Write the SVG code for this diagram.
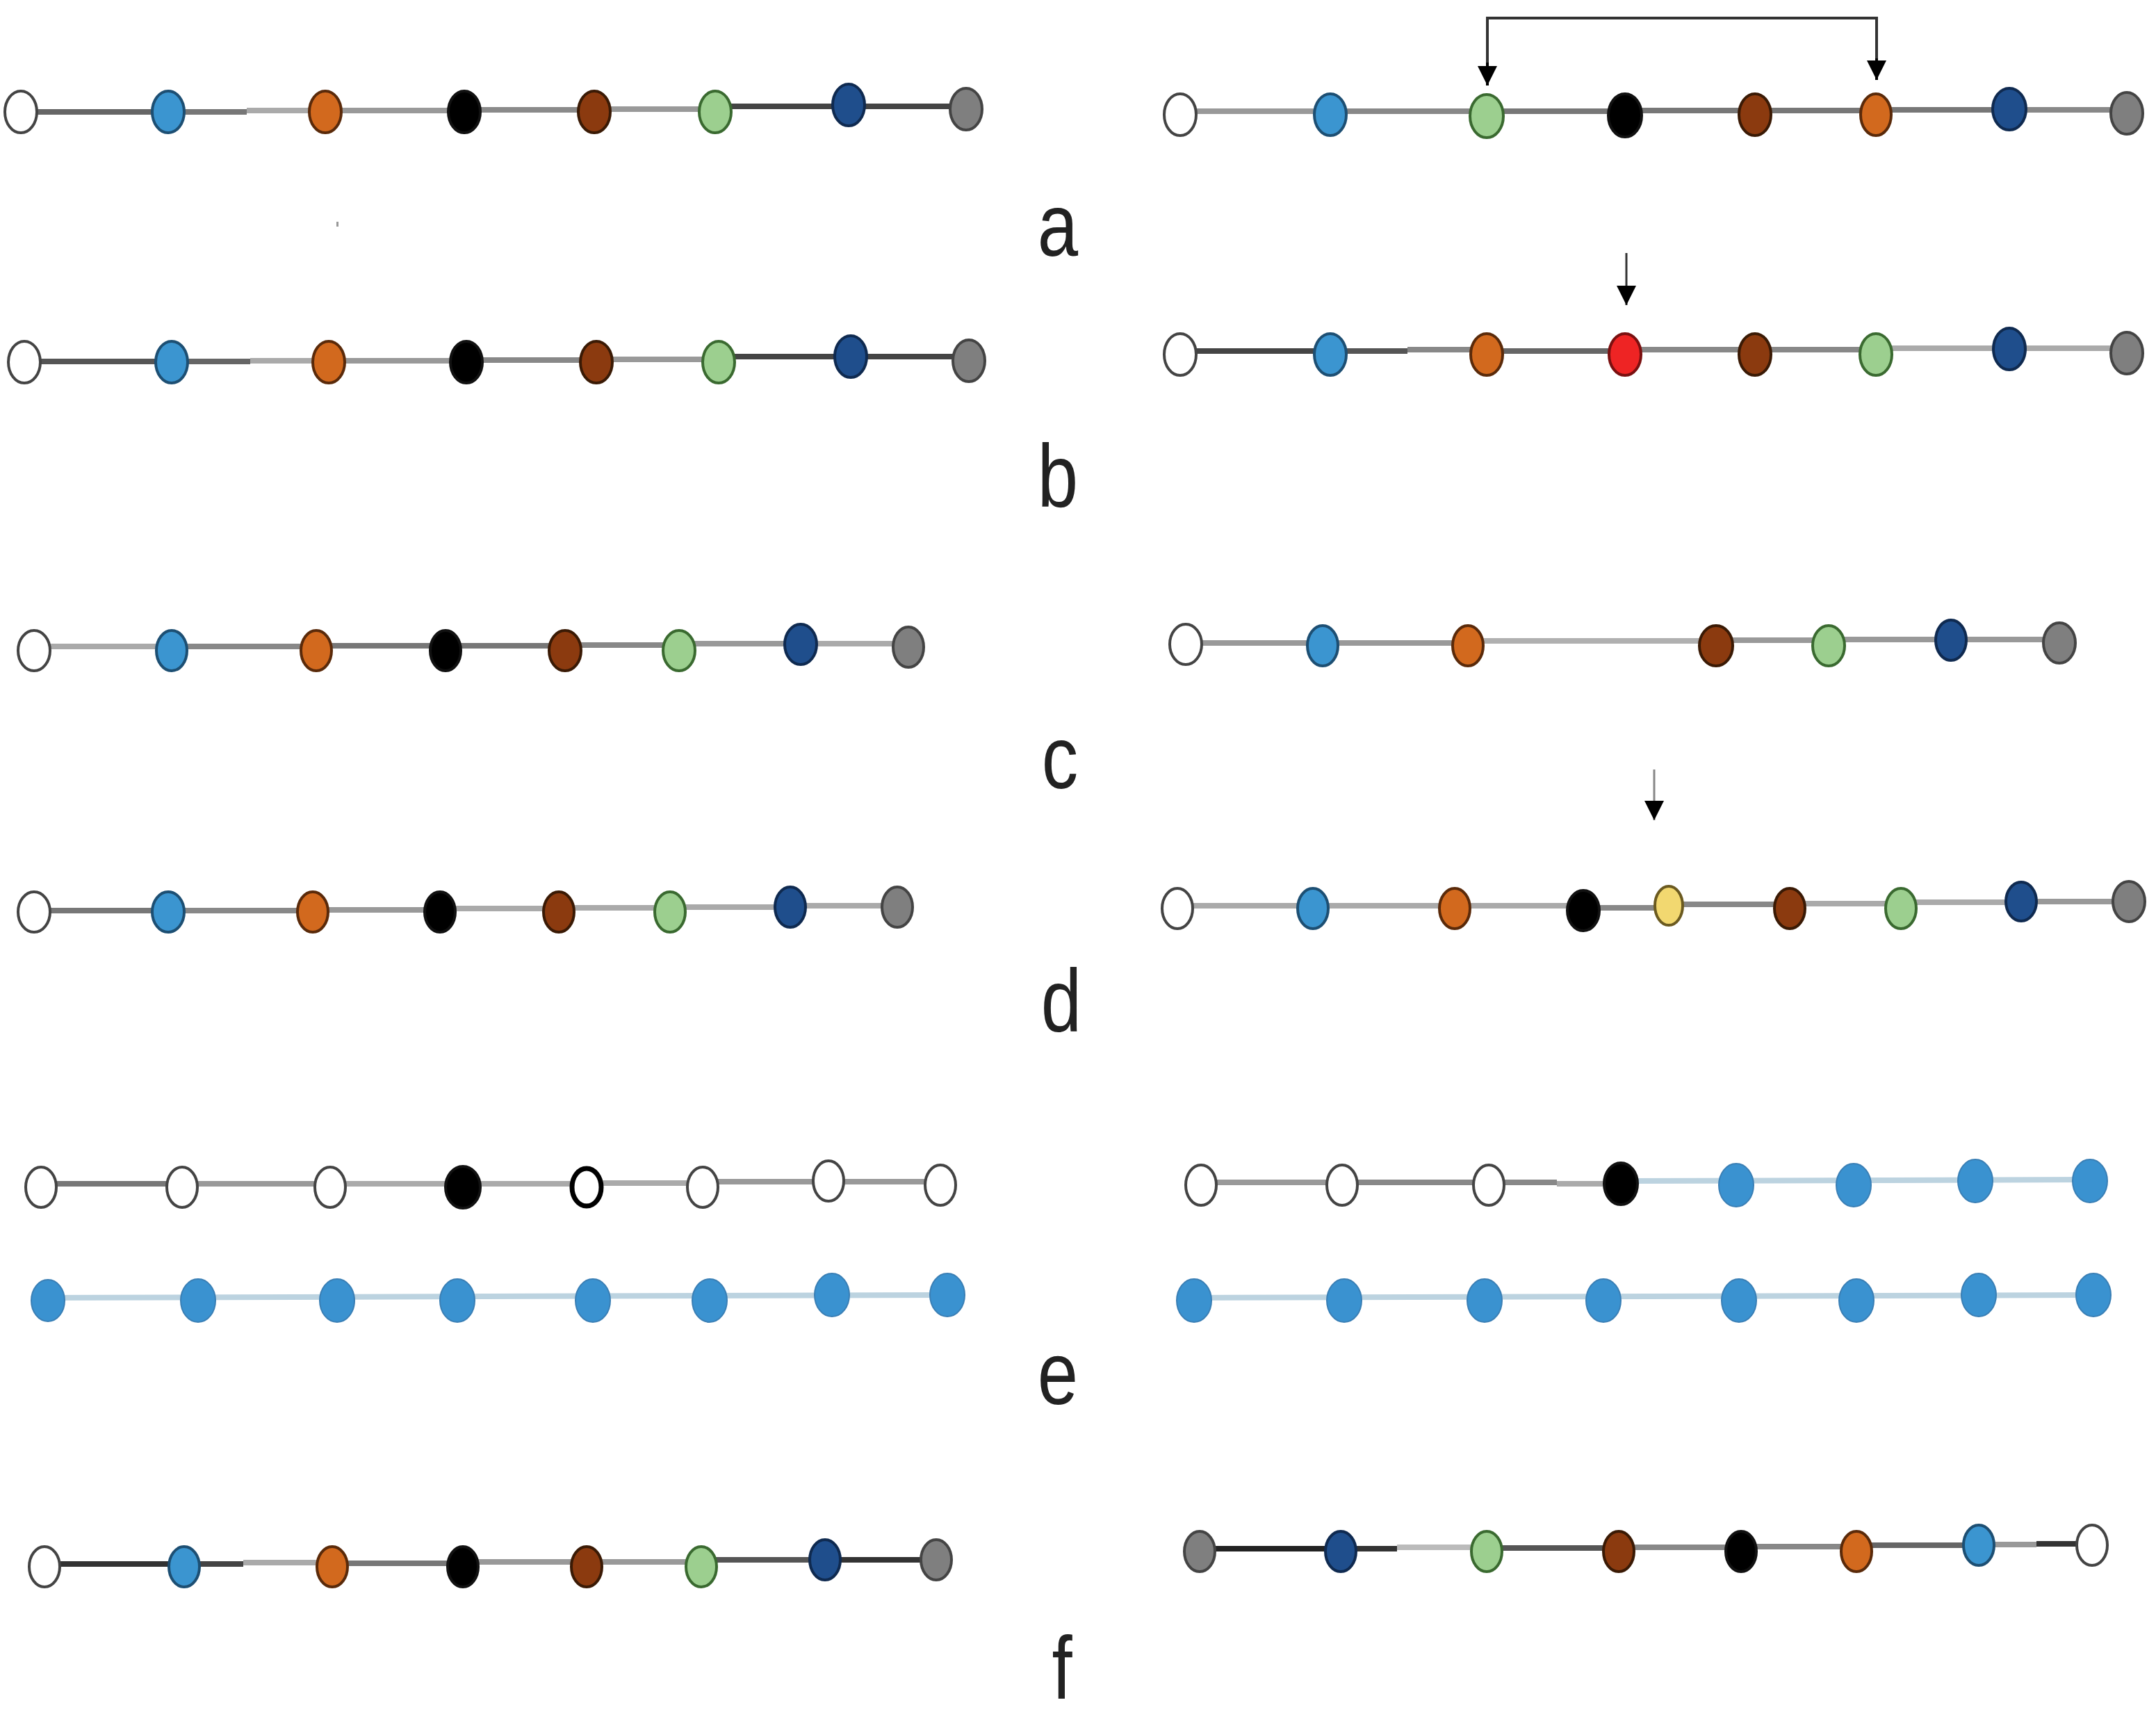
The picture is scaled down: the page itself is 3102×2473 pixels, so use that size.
<svg xmlns="http://www.w3.org/2000/svg" width="3102" height="2473" viewBox="0 0 3102 2473">
<defs>
<style>
.n{stroke-width:4}
.W{fill:#ffffff;stroke:#444}
.Bl{fill:#3b95d0;stroke:#1d4f73}
.Or{fill:#d2691e;stroke:#5a2a0a}
.K{fill:#000;stroke:#111}
.Br{fill:#8b3a0f;stroke:#3a1a05}
.G{fill:#9ccf8f;stroke:#3a6a30}
.DB{fill:#1f4e8c;stroke:#0f2a50}
.Gy{fill:#7f7f7f;stroke:#444}
.R{fill:#ee2424;stroke:#7a1010}
.Y{fill:#f2d870;stroke:#6b5a20}
.E{fill:#3a92d0;stroke:#3a7fb5;stroke-width:2}
.WT{fill:#ffffff;stroke:#000;stroke-width:7}
.ln{stroke-width:8;fill:none;stroke-linecap:butt}
.lb{stroke:#bcd3e0}
.arr{stroke:#333;stroke-width:4;fill:none}
.lbl{font-family:"Liberation Sans",Arial,sans-serif;font-size:128px;fill:#222;text-anchor:middle}
</style>
<marker id="ah" viewBox="0 0 10 10" refX="10" refY="5" markerWidth="28" markerHeight="28" markerUnits="userSpaceOnUse" orient="auto">
<path d="M0,0 L10,5 L0,10 z" fill="#000"/>
</marker>
</defs>
<rect width="3102" height="2473" fill="#ffffff"/>

<g id="connectors">
<!-- row a left -->
<line class="ln" x1="30" y1="161" x2="242" y2="161" stroke="#666"/>
<line class="ln" x1="242" y1="161" x2="355" y2="161" stroke="#777"/>
<line class="ln" x1="355" y1="159" x2="468" y2="159" stroke="#aaa"/>
<line class="ln" x1="468" y1="159" x2="668" y2="159" stroke="#999"/>
<line class="ln" x1="668" y1="158" x2="855" y2="158" stroke="#8a8a8a"/>
<line class="ln" x1="855" y1="157" x2="1029" y2="157" stroke="#999"/>
<line class="ln" x1="1029" y1="153" x2="1221" y2="153" stroke="#444"/>
<line class="ln" x1="1221" y1="153" x2="1390" y2="153" stroke="#444"/>
<!-- row a right -->
<line class="ln" x1="1698" y1="160" x2="1914" y2="160" stroke="#999"/>
<line class="ln" x1="1914" y1="160" x2="2139" y2="160" stroke="#888"/>
<line class="ln" x1="2139" y1="160" x2="2337" y2="160" stroke="#777"/>
<line class="ln" x1="2337" y1="159" x2="2525" y2="159" stroke="#777"/>
<line class="ln" x1="2525" y1="159" x2="2699" y2="159" stroke="#777"/>
<line class="ln" x1="2699" y1="158" x2="2891" y2="158" stroke="#777"/>
<line class="ln" x1="2891" y1="158" x2="3060" y2="158" stroke="#888"/>
<!-- bracket arrows a -->
<path class="arr" d="M2140,95 V26 H2700 V88" stroke-width="5"/>
<line x1="2140" y1="90" x2="2140" y2="123" stroke="#000" stroke-width="4" marker-end="url(#ah)"/>
<line x1="2700" y1="84" x2="2700" y2="115" stroke="#000" stroke-width="4" marker-end="url(#ah)"/>
<!-- row b left -->
<line class="ln" x1="35" y1="520" x2="247" y2="520" stroke="#555"/>
<line class="ln" x1="247" y1="520" x2="360" y2="520" stroke="#666"/>
<line class="ln" x1="360" y1="519" x2="473" y2="519" stroke="#aaa"/>
<line class="ln" x1="473" y1="519" x2="671" y2="519" stroke="#999"/>
<line class="ln" x1="671" y1="518" x2="858" y2="518" stroke="#888"/>
<line class="ln" x1="858" y1="517" x2="1034" y2="517" stroke="#999"/>
<line class="ln" x1="1034" y1="513" x2="1224" y2="513" stroke="#444"/>
<line class="ln" x1="1224" y1="513" x2="1394" y2="513" stroke="#444"/>
<!-- row b right -->
<line class="ln" x1="1698" y1="505" x2="1914" y2="505" stroke="#444"/>
<line class="ln" x1="1914" y1="505" x2="2025" y2="505" stroke="#555"/>
<line class="ln" x1="2025" y1="503" x2="2139" y2="503" stroke="#888"/>
<line class="ln" x1="2139" y1="505" x2="2337" y2="505" stroke="#666"/>
<line class="ln" x1="2337" y1="503" x2="2525" y2="503" stroke="#888"/>
<line class="ln" x1="2525" y1="503" x2="2699" y2="503" stroke="#888"/>
<line class="ln" x1="2699" y1="501" x2="2891" y2="501" stroke="#aaa"/>
<line class="ln" x1="2891" y1="501" x2="3060" y2="501" stroke="#aaa"/>
<line x1="2340" y1="364" x2="2340" y2="439" stroke="#333" stroke-width="3" marker-end="url(#ah)"/>
<!-- row c left -->
<line class="ln" x1="49" y1="930" x2="247" y2="930" stroke="#aaa"/>
<line class="ln" x1="247" y1="930" x2="455" y2="930" stroke="#888"/>
<line class="ln" x1="455" y1="929" x2="641" y2="929" stroke="#777"/>
<line class="ln" x1="641" y1="929" x2="813" y2="929" stroke="#777"/>
<line class="ln" x1="813" y1="928" x2="977" y2="928" stroke="#888"/>
<line class="ln" x1="977" y1="926" x2="1152" y2="926" stroke="#999"/>
<line class="ln" x1="1152" y1="926" x2="1307" y2="926" stroke="#aaa"/>
<!-- row c right -->
<line class="ln" x1="1706" y1="925" x2="1903" y2="925" stroke="#999"/>
<line class="ln" x1="1903" y1="925" x2="2112" y2="925" stroke="#999"/>
<line class="ln" x1="2112" y1="922" x2="2469" y2="922" stroke="#b0b0b0"/>
<line class="ln" x1="2469" y1="921" x2="2631" y2="921" stroke="#999"/>
<line class="ln" x1="2631" y1="920" x2="2807" y2="920" stroke="#999"/>
<line class="ln" x1="2807" y1="920" x2="2963" y2="920" stroke="#999"/>
<!-- row d left -->
<line class="ln" x1="49" y1="1310" x2="242" y2="1310" stroke="#777"/>
<line class="ln" x1="242" y1="1310" x2="450" y2="1310" stroke="#888"/>
<line class="ln" x1="450" y1="1309" x2="633" y2="1309" stroke="#999"/>
<line class="ln" x1="633" y1="1307" x2="804" y2="1307" stroke="#aaa"/>
<line class="ln" x1="804" y1="1306" x2="964" y2="1306" stroke="#aaa"/>
<line class="ln" x1="964" y1="1305" x2="1137" y2="1305" stroke="#aaa"/>
<line class="ln" x1="1137" y1="1303" x2="1291" y2="1303" stroke="#aaa"/>
<!-- row d right -->
<line class="ln" x1="1694" y1="1303" x2="1889" y2="1303" stroke="#aaa"/>
<line class="ln" x1="1889" y1="1303" x2="2093" y2="1303" stroke="#aaa"/>
<line class="ln" x1="2093" y1="1303" x2="2278" y2="1303" stroke="#aaa"/>
<line class="ln" x1="2278" y1="1306" x2="2401" y2="1306" stroke="#888"/>
<line class="ln" x1="2401" y1="1301" x2="2575" y2="1301" stroke="#888"/>
<line class="ln" x1="2575" y1="1300" x2="2735" y2="1300" stroke="#aaa"/>
<line class="ln" x1="2735" y1="1298" x2="2908" y2="1298" stroke="#aaa"/>
<line class="ln" x1="2908" y1="1297" x2="3063" y2="1297" stroke="#999"/>
<line x1="2380" y1="1107" x2="2380" y2="1180" stroke="#888" stroke-width="3" marker-end="url(#ah)"/>
<!-- row e1 left -->
<line class="ln" x1="59" y1="1703" x2="262" y2="1703" stroke="#777"/>
<line class="ln" x1="262" y1="1703" x2="475" y2="1703" stroke="#999"/>
<line class="ln" x1="475" y1="1703" x2="666" y2="1703" stroke="#aaa"/>
<line class="ln" x1="666" y1="1703" x2="846" y2="1703" stroke="#aaa"/>
<line class="ln" x1="846" y1="1702" x2="1011" y2="1702" stroke="#aaa"/>
<line class="ln" x1="1011" y1="1700" x2="1192" y2="1700" stroke="#999"/>
<line class="ln" x1="1192" y1="1700" x2="1353" y2="1700" stroke="#999"/>
<!-- row e2 left -->
<line class="ln lb" x1="69" y1="1867" x2="1363" y2="1863"/>
<!-- row e1 right -->
<line class="ln" x1="1728" y1="1701" x2="1931" y2="1701" stroke="#999"/>
<line class="ln" x1="1931" y1="1701" x2="2142" y2="1701" stroke="#888"/>
<line class="ln" x1="2142" y1="1701" x2="2240" y2="1701" stroke="#888"/>
<line class="ln" x1="2240" y1="1703" x2="2332" y2="1703" stroke="#aaa"/>
<line class="ln lb" x1="2332" y1="1699" x2="3007" y2="1697"/>
<!-- row e2 right -->
<line class="ln lb" x1="1718" y1="1867" x2="3012" y2="1863"/>
<!-- row f left -->
<line class="ln" x1="64" y1="2250" x2="265" y2="2250" stroke="#333"/>
<line class="ln" x1="265" y1="2250" x2="350" y2="2250" stroke="#444"/>
<line class="ln" x1="350" y1="2248" x2="478" y2="2248" stroke="#aaa"/>
<line class="ln" x1="478" y1="2249" x2="666" y2="2249" stroke="#777"/>
<line class="ln" x1="666" y1="2247" x2="844" y2="2247" stroke="#999"/>
<line class="ln" x1="844" y1="2247" x2="1009" y2="2247" stroke="#999"/>
<line class="ln" x1="1009" y1="2244" x2="1187" y2="2244" stroke="#555"/>
<line class="ln" x1="1187" y1="2244" x2="1347" y2="2244" stroke="#333"/>
<!-- row f right -->
<line class="ln" x1="1726" y1="2228" x2="1929" y2="2228" stroke="#222"/>
<line class="ln" x1="1929" y1="2228" x2="2010" y2="2228" stroke="#333"/>
<line class="ln" x1="2010" y1="2226" x2="2139" y2="2226" stroke="#bbb"/>
<line class="ln" x1="2139" y1="2227" x2="2329" y2="2227" stroke="#555"/>
<line class="ln" x1="2329" y1="2226" x2="2505" y2="2226" stroke="#888"/>
<line class="ln" x1="2505" y1="2225" x2="2671" y2="2225" stroke="#888"/>
<line class="ln" x1="2671" y1="2223" x2="2847" y2="2223" stroke="#666"/>
<line class="ln" x1="2847" y1="2222" x2="2930" y2="2222" stroke="#999"/>
<line class="ln" x1="2930" y1="2221" x2="3010" y2="2221" stroke="#333"/>
</g>

<g id="row-a-left">
<ellipse class="n W" cx="30" cy="161" rx="23" ry="30"/>
<ellipse class="n Bl" cx="242" cy="161" rx="23" ry="30"/>
<ellipse class="n Or" cx="468" cy="161" rx="23" ry="30"/>
<ellipse class="n K" cx="668" cy="161" rx="23" ry="30"/>
<ellipse class="n Br" cx="855" cy="161" rx="23" ry="30"/>
<ellipse class="n G" cx="1029" cy="161" rx="23" ry="30"/>
<ellipse class="n DB" cx="1221" cy="151" rx="23" ry="30"/>
<ellipse class="n Gy" cx="1390" cy="157" rx="23" ry="30"/>
</g>
<g id="row-a-right">
<ellipse class="n W" cx="1698" cy="165" rx="23" ry="30"/>
<ellipse class="n Bl" cx="1914" cy="165" rx="23" ry="30"/>
<ellipse class="n G" cx="2139" cy="167" rx="24" ry="31"/>
<ellipse class="n K" cx="2338" cy="166" rx="24" ry="31"/>
<ellipse class="n Br" cx="2525" cy="165" rx="23" ry="30"/>
<ellipse class="n Or" cx="2699" cy="165" rx="22" ry="30"/>
<ellipse class="n DB" cx="2891" cy="157" rx="24" ry="30"/>
<ellipse class="n Gy" cx="3060" cy="163" rx="23" ry="30"/>
</g>
<g id="row-b-left">
<ellipse class="n W" cx="35" cy="521" rx="23" ry="30"/>
<ellipse class="n Bl" cx="247" cy="521" rx="23" ry="30"/>
<ellipse class="n Or" cx="473" cy="521" rx="23" ry="30"/>
<ellipse class="n K" cx="671" cy="521" rx="23" ry="30"/>
<ellipse class="n Br" cx="858" cy="521" rx="23" ry="30"/>
<ellipse class="n G" cx="1034" cy="521" rx="23" ry="30"/>
<ellipse class="n DB" cx="1224" cy="513" rx="23" ry="30"/>
<ellipse class="n Gy" cx="1394" cy="519" rx="23" ry="30"/>
</g>
<g id="row-b-right">
<ellipse class="n W" cx="1698" cy="510" rx="23" ry="30"/>
<ellipse class="n Bl" cx="1914" cy="510" rx="23" ry="30"/>
<ellipse class="n Or" cx="2139" cy="510" rx="23" ry="30"/>
<ellipse class="n R" cx="2338" cy="510" rx="23" ry="30"/>
<ellipse class="n Br" cx="2525" cy="510" rx="23" ry="30"/>
<ellipse class="n G" cx="2699" cy="510" rx="23" ry="30"/>
<ellipse class="n DB" cx="2891" cy="502" rx="23" ry="30"/>
<ellipse class="n Gy" cx="3060" cy="508" rx="23" ry="30"/>
</g>
<g id="row-c-left">
<ellipse class="n W" cx="49" cy="936" rx="23" ry="29"/>
<ellipse class="n Bl" cx="247" cy="936" rx="22" ry="29"/>
<ellipse class="n Or" cx="455" cy="936" rx="22" ry="29"/>
<ellipse class="n K" cx="641" cy="936" rx="22" ry="29"/>
<ellipse class="n Br" cx="813" cy="936" rx="23" ry="29"/>
<ellipse class="n G" cx="977" cy="936" rx="23" ry="29"/>
<ellipse class="n DB" cx="1152" cy="927" rx="23" ry="29"/>
<ellipse class="n Gy" cx="1307" cy="931" rx="22" ry="29"/>
</g>
<g id="row-c-right">
<ellipse class="n W" cx="1706" cy="927" rx="23" ry="29"/>
<ellipse class="n Bl" cx="1903" cy="929" rx="22" ry="29"/>
<ellipse class="n Or" cx="2112" cy="929" rx="22" ry="29"/>
<ellipse class="n Br" cx="2469" cy="929" rx="24" ry="29"/>
<ellipse class="n G" cx="2631" cy="929" rx="23" ry="29"/>
<ellipse class="n DB" cx="2807" cy="921" rx="22" ry="29"/>
<ellipse class="n Gy" cx="2963" cy="925" rx="23" ry="29"/>
</g>
<g id="row-d-left">
<ellipse class="n W" cx="49" cy="1312" rx="23" ry="29"/>
<ellipse class="n Bl" cx="242" cy="1312" rx="23" ry="29"/>
<ellipse class="n Or" cx="450" cy="1312" rx="22" ry="29"/>
<ellipse class="n K" cx="633" cy="1312" rx="22" ry="29"/>
<ellipse class="n Br" cx="804" cy="1312" rx="22" ry="29"/>
<ellipse class="n G" cx="964" cy="1312" rx="22" ry="29"/>
<ellipse class="n DB" cx="1137" cy="1305" rx="22" ry="29"/>
<ellipse class="n Gy" cx="1291" cy="1305" rx="22" ry="29"/>
</g>
<g id="row-d-right">
<ellipse class="n W" cx="1694" cy="1307" rx="22" ry="29"/>
<ellipse class="n Bl" cx="1889" cy="1307" rx="22" ry="29"/>
<ellipse class="n Or" cx="2093" cy="1307" rx="22" ry="29"/>
<ellipse class="n K" cx="2278" cy="1310" rx="23" ry="29"/>
<ellipse class="n Y" cx="2401" cy="1303" rx="20" ry="28"/>
<ellipse class="n Br" cx="2575" cy="1307" rx="22" ry="29"/>
<ellipse class="n G" cx="2735" cy="1307" rx="22" ry="29"/>
<ellipse class="n DB" cx="2908" cy="1297" rx="22" ry="28"/>
<ellipse class="n Gy" cx="3063" cy="1297" rx="23" ry="29"/>
</g>
<g id="row-e1-left">
<ellipse class="n W" cx="59" cy="1708" rx="22" ry="29"/>
<ellipse class="n W" cx="262" cy="1708" rx="22" ry="29"/>
<ellipse class="n W" cx="475" cy="1708" rx="22" ry="29"/>
<ellipse class="n K" cx="666" cy="1708" rx="25" ry="30"/>
<ellipse class="WT" cx="844" cy="1708" rx="21" ry="27"/>
<ellipse class="n W" cx="1011" cy="1708" rx="22" ry="29"/>
<ellipse class="n W" cx="1192" cy="1699" rx="22" ry="29"/>
<ellipse class="n W" cx="1353" cy="1705" rx="22" ry="29"/>
</g>
<g id="row-e2-left">
<ellipse class="E" cx="69" cy="1871" rx="24" ry="30"/>
<ellipse class="E" cx="285" cy="1871" rx="25" ry="31"/>
<ellipse class="E" cx="485" cy="1871" rx="25" ry="31"/>
<ellipse class="E" cx="658" cy="1871" rx="25" ry="31"/>
<ellipse class="E" cx="853" cy="1871" rx="25" ry="31"/>
<ellipse class="E" cx="1021" cy="1871" rx="25" ry="31"/>
<ellipse class="E" cx="1197" cy="1863" rx="25" ry="31"/>
<ellipse class="E" cx="1363" cy="1863" rx="25" ry="31"/>
</g>
<g id="row-e1-right">
<ellipse class="n W" cx="1728" cy="1705" rx="22" ry="29"/>
<ellipse class="n W" cx="1931" cy="1705" rx="22" ry="29"/>
<ellipse class="n W" cx="2142" cy="1705" rx="22" ry="29"/>
<ellipse class="n K" cx="2332" cy="1703" rx="24" ry="30"/>
<ellipse class="E" cx="2498" cy="1705" rx="25" ry="31"/>
<ellipse class="E" cx="2667" cy="1705" rx="25" ry="31"/>
<ellipse class="E" cx="2842" cy="1699" rx="25" ry="31"/>
<ellipse class="E" cx="3007" cy="1699" rx="25" ry="31"/>
</g>
<g id="row-e2-right">
<ellipse class="E" cx="1718" cy="1871" rx="25" ry="31"/>
<ellipse class="E" cx="1934" cy="1871" rx="25" ry="31"/>
<ellipse class="E" cx="2136" cy="1871" rx="25" ry="31"/>
<ellipse class="E" cx="2307" cy="1871" rx="25" ry="31"/>
<ellipse class="E" cx="2502" cy="1871" rx="25" ry="31"/>
<ellipse class="E" cx="2671" cy="1871" rx="25" ry="31"/>
<ellipse class="E" cx="2847" cy="1863" rx="25" ry="31"/>
<ellipse class="E" cx="3012" cy="1863" rx="25" ry="31"/>
</g>
<g id="row-f-left">
<ellipse class="n W" cx="64" cy="2254" rx="22" ry="29"/>
<ellipse class="n Bl" cx="265" cy="2254" rx="22" ry="29"/>
<ellipse class="n Or" cx="478" cy="2254" rx="22" ry="29"/>
<ellipse class="n K" cx="666" cy="2254" rx="22" ry="29"/>
<ellipse class="n Br" cx="844" cy="2254" rx="22" ry="29"/>
<ellipse class="n G" cx="1009" cy="2254" rx="22" ry="29"/>
<ellipse class="n DB" cx="1187" cy="2244" rx="22" ry="29"/>
<ellipse class="n Gy" cx="1347" cy="2244" rx="22" ry="29"/>
</g>
<g id="row-f-right">
<ellipse class="n Gy" cx="1726" cy="2232" rx="22" ry="29"/>
<ellipse class="n DB" cx="1929" cy="2232" rx="22" ry="29"/>
<ellipse class="n G" cx="2139" cy="2232" rx="22" ry="29"/>
<ellipse class="n Br" cx="2329" cy="2232" rx="22" ry="29"/>
<ellipse class="n K" cx="2505" cy="2232" rx="22" ry="29"/>
<ellipse class="n Or" cx="2671" cy="2232" rx="22" ry="29"/>
<ellipse class="n Bl" cx="2847" cy="2223" rx="22" ry="29"/>
<ellipse class="n W" cx="3010" cy="2223" rx="22" ry="29"/>
</g>

<rect x="484" y="319" width="3" height="7" fill="#999"/>

<g id="labels">
<text class="lbl" transform="translate(1522,368) scale(0.82,1)">a</text>
<text class="lbl" transform="translate(1522,729) scale(0.82,1)">b</text>
<text class="lbl" transform="translate(1525,1134) scale(0.82,1)">c</text>
<text class="lbl" transform="translate(1527,1484) scale(0.82,1)">d</text>
<text class="lbl" transform="translate(1522,2020) scale(0.82,1)">e</text>
<text class="lbl" transform="translate(1528,2444) scale(0.82,1)">f</text>
</g>
</svg>
